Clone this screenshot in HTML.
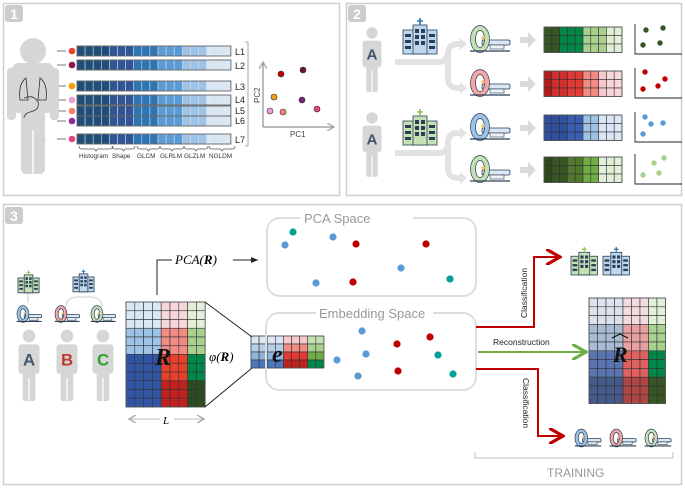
<!DOCTYPE html>
<html><head><meta charset="utf-8"><style>
html,body{margin:0;padding:0;background:#fff;}
svg{display:block;font-family:"Liberation Sans",sans-serif;}
</style></head><body>
<svg id="s" width="685" height="488" viewBox="0 0 685 488" xmlns="http://www.w3.org/2000/svg">
<defs>
<marker id="ak" markerWidth="8" markerHeight="8" refX="7" refY="4" orient="auto"><path d="M0,1 L7,4 L0,7 z" fill="#222"/></marker>
<marker id="ar" markerWidth="8" markerHeight="8" refX="6" refY="4" orient="auto"><path d="M0,0 L7,4 L0,8" fill="none" stroke="#c00000" stroke-width="1.6"/></marker>
<marker id="ag" markerWidth="8" markerHeight="8" refX="6" refY="4" orient="auto"><path d="M0,0 L7,4 L0,8" fill="none" stroke="#70ad47" stroke-width="1.6"/></marker>
<marker id="agr" markerWidth="8" markerHeight="8" refX="6" refY="4" orient="auto"><path d="M0,0 L7,4 L0,8" fill="none" stroke="#aaa" stroke-width="1.4"/></marker>
</defs>
<rect x="3.5" y="3.5" width="336" height="192" fill="none" stroke="#cfcfcf" stroke-width="1.5"/>
<rect x="346.5" y="3.5" width="335" height="192" fill="none" stroke="#cfcfcf" stroke-width="1.5"/>
<rect x="3.5" y="204.5" width="678" height="280" fill="none" stroke="#cfcfcf" stroke-width="1.5"/>
<rect x="5" y="5" width="18" height="17" rx="3" fill="#cccccc"/><text x="14" y="19" font-size="14" font-weight="bold" fill="#fff" text-anchor="middle">1</text>
<rect x="348" y="5" width="18" height="17" rx="3" fill="#cccccc"/><text x="357" y="19" font-size="14" font-weight="bold" fill="#fff" text-anchor="middle">2</text>
<rect x="5" y="207" width="18" height="17" rx="3" fill="#cccccc"/><text x="14" y="221" font-size="14" font-weight="bold" fill="#fff" text-anchor="middle">3</text>
<g id="g"></g>

<g fill="#d6d6d6">
<circle cx="33" cy="51" r="13"/>
<rect x="12" y="63" width="42" height="50" rx="7"/>
<rect x="21" y="100" width="24" height="74" rx="5"/>
<rect x="7" y="68" width="9" height="52" rx="4"/><rect x="50" y="68" width="9" height="52" rx="4"/>
</g>
<line x1="33" y1="130" x2="33" y2="174" stroke="#fff" stroke-width="1.5"/>
<path d="M26,78 q-8,6 -6,22 l8,0 z M40,78 q8,6 6,22 l-8,0 z" fill="none" stroke="#333" stroke-width="0.8"/>
<path d="M24,98 q10,-4 14,4 q2,8 -8,10 q-6,2 -6,6" fill="none" stroke="#333" stroke-width="0.8"/>
<g font-size="9" fill="#222">
<text x="235" y="55">L1</text><text x="235" y="69">L2</text><text x="235" y="90">L3</text><text x="235" y="103">L4</text><text x="235" y="114">L5</text><text x="235" y="124">L6</text><text x="235" y="143">L7</text>
</g>
<path d="M245,42 h3 v104 h-3" fill="none" stroke="#aaa" stroke-width="1"/>
<g font-size="6.4" fill="#333">
<text x="79" y="158">Histogram</text><text x="112" y="158">Shape</text><text x="137" y="158">GLCM</text><text x="160" y="158">GLRLM</text><text x="184" y="158">GLZLM</text><text x="209" y="158">NGLDM</text>
</g>
<path d="M263,127 H333" fill="none" stroke="#777" stroke-width="1" marker-end="url(#agr)"/>
<line x1="263" y1="127" x2="263" y2="63" stroke="#777" marker-end="url(#agr)"/>
<text x="290" y="137" font-size="8" fill="#444">PC1</text>
<text x="0" y="0" font-size="8" fill="#444" transform="translate(260,103) rotate(-90)">PC2</text>

<text x="175" y="264" font-size="13" font-style="italic" font-family="Liberation Serif,serif">PCA(<tspan font-weight="bold">R</tspan>)</text>
<path d="M157,295 V260 H172" fill="none" stroke="#222" stroke-width="1"/>
<line x1="233" y1="260" x2="258" y2="260" stroke="#222" stroke-width="1" marker-end="url(#ak)"/>
<path d="M300,218 H280 a13,13 0 0 0 -13,13 V283 a13,13 0 0 0 13,13 H463 a13,13 0 0 0 13,-13 V231 a13,13 0 0 0 -13,-13 H413" fill="none" stroke="#ddd" stroke-width="2"/>
<text x="304" y="223" font-size="13" fill="#999">PCA Space</text>
<path d="M316,313 H279 a13,13 0 0 0 -13,13 V377 a13,13 0 0 0 13,13 H463 a13,13 0 0 0 13,-13 V326 a13,13 0 0 0 -13,-13 H433" fill="none" stroke="#ddd" stroke-width="2"/>
<text x="319" y="318" font-size="13" fill="#999">Embedding Space</text>
<line x1="205" y1="302" x2="252" y2="337" stroke="#222"/>
<line x1="205" y1="407" x2="252" y2="368" stroke="#222"/>
<text x="209" y="361" font-size="13" font-style="italic" font-family="Liberation Serif,serif">φ(<tspan font-weight="bold">R</tspan>)</text>
<line x1="160" y1="419" x2="130" y2="419" stroke="#bbb" marker-end="url(#agr)"/>
<line x1="174" y1="419" x2="203" y2="419" stroke="#bbb" marker-end="url(#agr)"/>
<text x="163" y="424" font-size="11" font-style="italic" font-family="Liberation Serif,serif">L</text>
<path d="M476,327 H534 V257 H558" fill="none" stroke="#c00000" stroke-width="2" marker-end="url(#ar)"/>
<path d="M476,369 H538 V436 H561" fill="none" stroke="#c00000" stroke-width="2" marker-end="url(#ar)"/>
<line x1="478" y1="352" x2="584" y2="352" stroke="#70ad47" stroke-width="2" marker-end="url(#ag)"/>
<text x="493" y="345" font-size="8.5" fill="#222">Reconstruction</text>
<text font-size="8.5" fill="#222" transform="translate(527,318) rotate(-90)">Classification</text>
<text font-size="8.5" fill="#222" transform="translate(523,378) rotate(90)">Classification</text>
<path d="M475,452 v6 H673 v-6" fill="none" stroke="#ccc" stroke-width="1.2"/>
<text x="547" y="477" font-size="12" fill="#999">TRAINING</text>
</svg>
<script>
const g=document.getElementById('g');const NS='http://www.w3.org/2000/svg';
function el(t,a,p){const e=document.createElementNS(NS,t);for(const k in a)e.setAttribute(k,a[k]);(p||g).appendChild(e);return e;}
function grid(x,y,cols,rows,cw,rh,colorFn,stroke){for(let r=0;r<rows;r++)for(let c=0;c<cols;c++)el('rect',{x:x+c*cw,y:y+r*rh,width:cw,height:rh,fill:colorFn(c,r),stroke:stroke||'#333','stroke-width':0.6});el('rect',{x,y,width:cols*cw,height:rows*rh,fill:'none',stroke:'#555','stroke-width':0.8});}
const bc=['#1f4e79','#1f4e79','#1f4e79','#1f4e79','#2f5597','#2f5597','#2f5597','#2e75b6','#2e75b6','#2e75b6','#5b9bd5','#5b9bd5','#5b9bd5','#9dc3e6','#9dc3e6','#9dc3e6','#dae7f5','#dae7f5','#dae7f5'];
const rowsY=[46,60,81,95,106,116,134],dc=['#e8442a','#8b1a4a','#f39c12','#e79fcf','#f08070','#8e2a9e','#e8447a'];
rowsY.forEach((y,i)=>{grid(77,y,19,1,8.1,10,c=>bc[c],'#ddd');el('circle',{cx:72,cy:y+5,r:3.3,fill:dc[i]});el('line',{x1:57,y1:y+5,x2:66,y2:y+5,stroke:'#555','stroke-width':0.8});});
[[34,50,'#e8442a'],[31,65,'#8b1a4a'],[38,85,'#f39c12'],[23,100,'#e79fcf'],[33,111,'#f08070'],[34,120,'#8e2a9e'],[42,140,'#e8447a']].forEach(d=>el('circle',{cx:d[0],cy:d[1],r:3.3,fill:d[2]}));
[[79,110],[112,132],[137,157],[160,181],[184,205],[209,232]].forEach(b=>el('path',{d:`M${b[0]},146 q0,3 3,3 h${(b[1]-b[0])/2-3} l1.5,2 l1.5,-2 h${(b[1]-b[0])/2-3} q3,0 3,-3`,fill:'none',stroke:'#555','stroke-width':0.7}));
[[281,74,'#c00000'],[303,70,'#6b1040'],[274,97,'#f39c12'],[302,100,'#7b1f7a'],[317,109,'#e8447a'],[270,111,'#e79fcf'],[283,112,'#f08070']].forEach(d=>el('circle',{cx:d[0],cy:d[1],r:3,fill:d[2],stroke:'#333','stroke-width':0.6}));
function person(cx,cy,s,letter,lc){el('circle',{cx,cy,r:6*s,fill:'#d6d6d6'});el('rect',{x:cx-10*s,y:cy+8*s,width:20*s,height:28*s,rx:3*s,fill:'#d6d6d6'});el('rect',{x:cx-6*s,y:cy+30*s,width:12*s,height:32*s,rx:2*s,fill:'#d6d6d6'});el('line',{x1:cx,y1:cy+40*s,x2:cx,y2:cy+62*s,stroke:'#fff','stroke-width':1.2*s});
 if(letter){const t=el('text',{x:cx,y:cy+28*s,'font-size':16*s,'font-weight':'bold',fill:lc,'text-anchor':'middle'});t.textContent=letter;}}
function hospital(x,y,s,col,cross){el('rect',{x:x,y:y+8*s,width:34*s,height:24*s,fill:col,stroke:'#2a3f55','stroke-width':0.8});el('rect',{x:x+10*s,y:y+3*s,width:14*s,height:29*s,fill:col,stroke:'#2a3f55','stroke-width':0.8});
 for(let r=0;r<3;r++){for(let c=0;c<2;c++)el('rect',{x:x+12*s+c*6*s,y:y+7*s+r*6*s,width:4*s,height:4*s,fill:'#2a3f55'});el('rect',{x:x+2*s,y:y+12*s+r*6*s,width:6*s,height:3*s,fill:'#2a3f55'});el('rect',{x:x+26*s,y:y+12*s+r*6*s,width:6*s,height:3*s,fill:'#2a3f55'});}
 el('path',{d:`M${x+17*s},${y-4*s} v${7*s} M${x+14*s},${y-1*s} h${6*s}`,stroke:cross,'stroke-width':1.6*s});}
function scanner(x,y,s,col){
 el('rect',{x:x+10*s,y:y+1*s,width:28*s,height:5*s,rx:1.5*s,fill:'#dae7f5',stroke:'#2a3f55','stroke-width':0.8});
 el('rect',{x:x+18*s,y:y+6*s,width:14*s,height:4*s,fill:'#eef3f8',stroke:'#2a3f55','stroke-width':0.6});
 el('ellipse',{cx:x+8*s,cy:y,rx:7*s,ry:11*s,fill:'none',stroke:col,'stroke-width':5*s});
 el('ellipse',{cx:x+8*s,cy:y,rx:9.5*s,ry:13.5*s,fill:'none',stroke:'#2a3f55','stroke-width':0.7});
 el('ellipse',{cx:x+8*s,cy:y,rx:4.5*s,ry:8.5*s,fill:'none',stroke:'#2a3f55','stroke-width':0.7});
 el('line',{x1:x-2*s,y1:y+12*s,x2:x+38*s,y2:y+12*s,stroke:'#2a3f55','stroke-width':1.2});
 el('circle',{cx:x+11*s,cy:y-1*s,r:1.8*s,fill:'#f5c26b'});}
person(372,33,0.95,'A','#44546a');person(372,118,0.95,'A','#44546a');
hospital(403,22,1,'#bdd7ee','#2e75b6');hospital(403,113,1,'#c5e0b4','#8bc34a');
[[62,44,88],[153,133,178]].forEach(a=>{el('path',{d:`M395,${a[0]} H438 q10,0 10,-10 V${a[1]+10} q0,-10 10,-10 H462`,fill:'none',stroke:'#e2e2e2','stroke-width':6});el('path',{d:`M448,${a[0]-10} V${a[2]-10} q0,10 10,10 H462`,fill:'none',stroke:'#e2e2e2','stroke-width':6});
 el('path',{d:`M460,${a[1]-6} l7,6 l-7,6z M460,${a[2]-6} l7,6 l-7,6z`,fill:'#e2e2e2'});});
const sc=['#c5e0b4','#f4a6a6','#9dc3e6','#c5e0b4'];const gy=[27,71,115,157];
const gc=[c=>['#375623','#375623','#00884a','#00884a','#00884a','#a9d18e','#a9d18e','#a9d18e','#e2f0d9','#e2f0d9'][c],c=>['#b71c1c','#d32f2f','#d32f2f','#e53935','#e53935','#f28b82','#f28b82','#f8c8cc','#f8d7da','#f8d7da'][c],c=>['#2f4f9f','#2f4f9f','#2f4f9f','#3a5fb0','#3a5fb0','#9dc3e6','#9dc3e6','#dae7f5','#dae7f5','#dae7f5'][c],c=>['#2d4a1e','#375623','#375623','#4f7a2e','#4f7a2e','#70ad47','#70ad47','#e2f0d9','#e2f0d9','#e2f0d9'][c]];
const dotc=['#375623','#c00000','#5b9bd5','#a9d18e'];
const pts=[[[646,30],[663,28],[643,45],[660,43]],[[645,72],[665,79],[643,89],[658,86]],[[645,117],[651,124],[663,123],[643,134]],[[654,163],[664,158],[643,175],[659,173]]];
gy.forEach((y,i)=>{scanner(472,y+12,1,sc[i]);el('path',{d:`M520,${y+10} h8 v-5 l8,8 l-8,8 v-5 h-8z`,fill:'#d9d9d9'});grid(544,y,10,3,7.8,8.5,gc[i],'#333');
 el('path',{d:`M635,${y-3} V${y+27} H682`,fill:'none',stroke:'#222','stroke-width':0.9});pts[i].forEach(p=>el('circle',{cx:p[0],cy:p[1],r:2.7,fill:dotc[i]}));});
// panel 3 left
el('line',{x1:28,y1:292,x2:28,y2:303,stroke:'#ddd','stroke-width':1.5});el('path',{d:'M66,307 q0,-10 12,-10 h12 q12,0 12,10',fill:'none',stroke:'#ddd','stroke-width':1.5});
hospital(18,273,0.62,'#c5e0b4','#8bc34a');hospital(73,272,0.62,'#bdd7ee','#2e75b6');
scanner(18,314,0.62,'#9dc3e6');scanner(56,314,0.62,'#f4a6a6');scanner(92,314,0.62,'#c5e0b4');
person(29,336,1.05,'A','#44546a');person(67,336,1.05,'B','#c0392b');person(103,336,1.05,'C','#2ca02c');
const Rcol=(c,r)=>{const t=r<3?0:r<6?1:2;if(c<4)return['#dae7f5','#9dc3e6','#2f55a4'][t];if(c<7)return r>=9?'#c0201e':['#f8d7da','#f28b82','#e8402a'][t];return r>=9?'#2d4a1e':['#e2f0d9','#a9d18e','#00884a'][t];};
grid(126,302,9,12,8.8,8.75,Rcol,'#333');
let t=el('text',{x:155,y:365,'font-size':24,'font-style':'italic','font-weight':'bold','font-family':'Liberation Serif,serif',fill:'#111'});t.textContent='R';
const ecol=(c,r)=>{if(c<4)return['#dae7f5','#b4cfe9','#8eb3dc','#4a77c0'][r];if(c<7)return['#f8c8cc','#f28b82','#e53935','#c0201e'][r];return['#c5e0b4','#a9d18e','#70ad47','#00884a'][r];};
grid(251,336,9,4,8.1,8,ecol,'#333');
t=el('text',{x:272,y:362,'font-size':24,'font-style':'italic','font-weight':'bold','font-family':'Liberation Serif,serif',fill:'#111'});t.textContent='e';
const Hcol=(c,r)=>{if(c<4)return r<3?'#dde3ee':r<6?'#a8bbd4':r<9?'#5a74b0':'#455a8a';if(c<7)return r<3?'#f4dbe0':r<6?'#e8a0a0':r<9?'#e06060':'#b04545';return r<3?'#e2f0d9':r<6?'#a9d18e':r<9?'#00884a':'#375623';};
grid(589,298,9,12,8.5,8.8,Hcol,'#333');
t=el('text',{x:613,y:362,'font-size':22,'font-style':'italic','font-weight':'bold','font-family':'Liberation Serif,serif',fill:'#111'});t.textContent='R';
el('path',{d:'M612,338 l8,-4 l8,4',fill:'none',stroke:'#111','stroke-width':1.2});
hospital(571,250,0.78,'#c5e0b4','#8bc34a');hospital(603,250,0.78,'#bdd7ee','#2e75b6');
scanner(576,438,0.66,'#9dc3e6');scanner(611,438,0.66,'#f4a6a6');scanner(646,438,0.66,'#c5e0b4');
const B='#5b9bd5',Rr='#c00000',T='#00a19a';
[[293,232,T],[285,245,B],[333,237,B],[316,283,B],[356,244,Rr],[426,244,Rr],[401,268,B],[353,282,Rr],[450,279,T],
 [337,360,B],[362,331,B],[397,344,Rr],[430,337,Rr],[366,354,B],[438,355,T],[358,376,B],[398,371,Rr],[453,374,T]].forEach(d=>el('circle',{cx:d[0],cy:d[1],r:3.6,fill:d[2]}));
</script>
</body></html>
